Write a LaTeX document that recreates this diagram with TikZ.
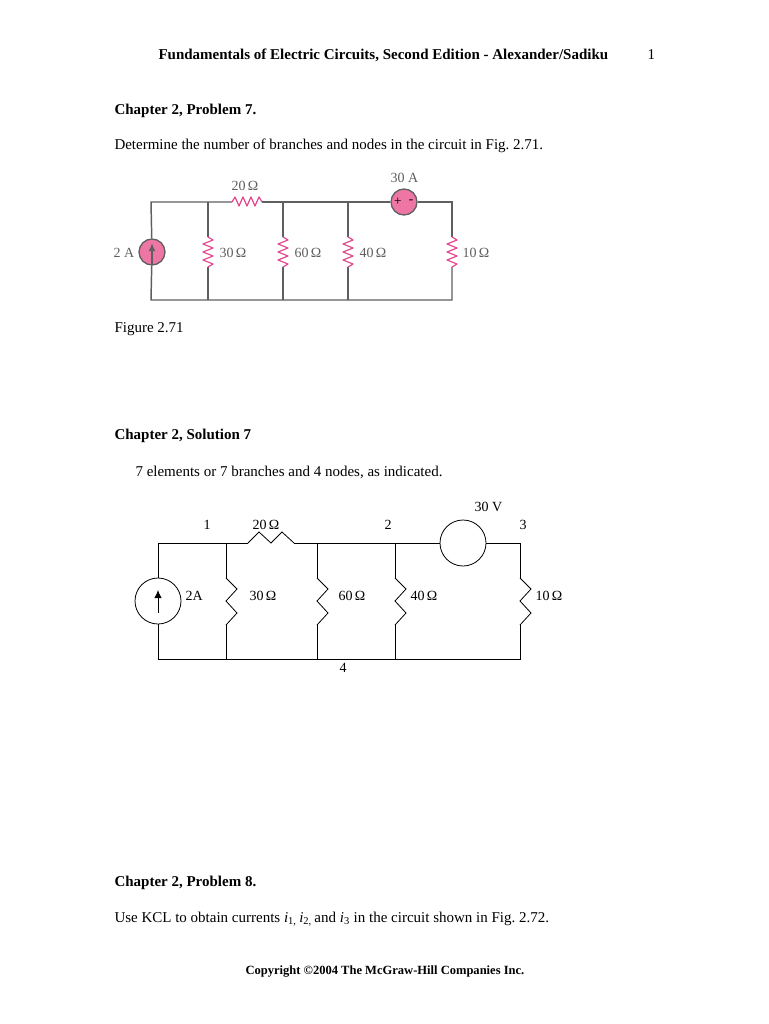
\documentclass[tikz,border=0pt]{standalone}
\usepackage{fontspec}
\setmainfont{Liberation Serif}
\usetikzlibrary{arrows.meta}
\definecolor{pinkfill}{RGB}{238,118,165}
\definecolor{pinkline}{RGB}{226,70,140}
\definecolor{wiregray}{RGB}{95,95,95}
\tikzset{every picture/.style={line width=0.75pt}}
\tikzset{
  txt/.style={anchor=base west,inner sep=0pt,font=\fontsize{11.25}{13}\selectfont\frenchspacing},
  hdr/.style={txt,font=\fontsize{11.25}{13}\selectfont\bfseries\frenchspacing},
  lbl/.style={anchor=base west,inner sep=0pt,font=\fontsize{10.5}{12}\selectfont},
  fig/.style={anchor=base west,inner sep=0pt,text=wiregray,font=\fontsize{10.5}{12}\selectfont},
  wire/.style={draw=black,line width=0.6pt},
  wirefig/.style={draw=wiregray,line width=1.1pt},
  srcfig/.style={circle,draw=wiregray,fill=pinkfill,line width=1pt,minimum size=26pt*0.75,inner sep=0pt},
  src/.style={circle,draw=black,line width=0.6pt,minimum size=46pt*0.75,inner sep=0pt},
  pinkres/.style={draw=pinkline,line width=0.9pt,line join=round}
}
\begin{document}
\begin{tikzpicture}[x=0.75pt,y=0.75pt,yscale=-1,xscale=1]
\useasboundingbox (0,0) rectangle (768,1024);

% Page text
\node (header) [hdr] at (158,60) {Fundamentals of Electric Circuits, Second Edition - Alexander/Sadiku};
\node (pagenum) [txt] at (647,60) {1};
\node (prob7) [hdr] at (114,114) {Chapter 2, Problem 7.};
\node (prob7txt) [txt] at (114,149) {Determine the number of branches and nodes in the circuit in Fig. 2.71.};
\node (figcap) [txt] at (114,332) {Figure 2.71};
\node (sol7) [hdr] at (114,439) {Chapter 2, Solution 7};
\node (sol7txt) [txt] at (135,476) {7 elements or 7 branches and 4 nodes, as indicated.};
\node (prob8) [hdr] at (114,886) {Chapter 2, Problem 8.};
\node (prob8txt) [txt] at (114,922) {Use KCL to obtain currents \textit{i}\textsubscript{1,}\,\textit{i}\textsubscript{2,}\,and \textit{i}\textsubscript{3} in the circuit shown in Fig. 2.72.};
\node (copyr) [anchor=base west,inner sep=0pt,font=\fontsize{9.4}{11}\selectfont\bfseries] at (245,974) {Copyright ©2004 The McGraw-Hill Companies Inc.};

% Figure 2.71
\coordinate (ta) at (151,202);
\coordinate (tb) at (208,202);
\coordinate (tc) at (283,202);
\coordinate (td) at (348,202);
\coordinate (te) at (452,202);
\coordinate (ba) at (151,300);
\coordinate (bb) at (208,300);
\coordinate (bc) at (283,300);
\coordinate (bd) at (348,300);
\coordinate (be) at (452,300);
\node (isrc) [srcfig] at (152,252) {};
\node (vsrc) [srcfig] at (404,202) {};
\coordinate (rtwol) at (232,202);
\coordinate (rtwor) at (262,202);
\coordinate (rbt) at (208,237);
\coordinate (rbb) at (208,267);
\coordinate (rct) at (283,237);
\coordinate (rcb) at (283,267);
\coordinate (rdt) at (348,237);
\coordinate (rdb) at (348,267);
\coordinate (ret) at (452,237);
\coordinate (reb) at (452,267);

\draw [wirefig] (isrc) -- (ta) -- (rtwol);
\draw [wirefig] (rtwor) -- (vsrc);
\draw [wirefig] (vsrc) -- (te) -- (ret);
\draw [wirefig] (isrc) -- (ba) -- (be) -- (reb);
\draw [wirefig] (tb) -- (rbt);
\draw [wirefig] (rbb) -- (bb);
\draw [wirefig] (tc) -- (rct);
\draw [wirefig] (rcb) -- (bc);
\draw [wirefig] (td) -- (rdt);
\draw [wirefig] (rdb) -- (bd);

\draw [pinkres] (rtwol) -- ++(3,-5) -- ++(4,9) -- ++(4,-9) -- ++(4,9) -- ++(4,-9) -- ++(4,9) -- ++(4,-9) -- (rtwor);
\foreach \rtop/\rbot in {rbt/rbb,rct/rcb,rdt/rdb,ret/reb}
  \draw [pinkres] (\rtop) -- ++(5,3) -- ++(-10,4) -- ++(10,4) -- ++(-10,4) -- ++(10,4) -- ++(-10,4) -- ++(10,4) -- (\rbot);

\draw [wiregray,line width=1pt,-{Latex[length=6pt,width=5pt]}] (152,265) -- (152,243);
\node (plus) [text=black,inner sep=0pt,font=\fontsize{10}{11}\selectfont] at (398,202) {+};
\node (minus) [text=black,inner sep=0pt,font=\fontsize{10}{11}\selectfont] at (411,202) {-};

\node (ltwenty) [fig] at (231,190) {20\,Ω};
\node (lthirtya) [fig] at (390,182) {30 A};
\node (ltwoa) [fig] at (113,257) {2 A};
\node (lthirty) [fig] at (219,257) {30\,Ω};
\node (lsixty) [fig] at (294,257) {60\,Ω};
\node (lforty) [fig] at (359,257) {40\,Ω};
\node (lten) [fig] at (462,257) {10\,Ω};

% Solution circuit
\coordinate (na) at (158,543);
\coordinate (nb) at (226,543);
\coordinate (nc) at (317,543);
\coordinate (nd) at (395,543);
\coordinate (ne) at (520,543);
\coordinate (sa) at (158,659);
\coordinate (sb) at (226,659);
\coordinate (sc) at (317,659);
\coordinate (sd) at (395,659);
\coordinate (se) at (520,659);
\node (isource) [src] at (158,601) {};
\node (vsource) [src] at (463,543) {};
\coordinate (rl) at (248,543);
\coordinate (rr) at (294,543);
\coordinate (tbt) at (226,578);
\coordinate (tbb) at (226,625);
\coordinate (tct) at (317,578);
\coordinate (tcb) at (317,625);
\coordinate (tdt) at (395,578);
\coordinate (tdb) at (395,625);
\coordinate (tet) at (520,578);
\coordinate (teb) at (520,625);

\draw [wire] (isource) -- (na) -- (rl);
\draw [wire] (rr) -- (vsource);
\draw [wire] (vsource) -- (ne) -- (tet);
\draw [wire] (isource) -- (sa) -- (se) -- (teb);
\draw [wire] (nb) -- (tbt);
\draw [wire] (tbb) -- (sb);
\draw [wire] (nc) -- (tct);
\draw [wire] (tcb) -- (sc);
\draw [wire] (nd) -- (tdt);
\draw [wire] (tdb) -- (sd);

\draw [wire] (rl) -- ++(11,-11) -- ++(12,11) -- ++(11,-11) -- (rr);
\foreach \rtop/\rbot in {tbt/tbb,tct/tcb,tdt/tdb,tet/teb}
  \draw [wire] (\rtop) -- ++(11,11) -- ++(-11,12) -- ++(11,12) -- (\rbot);

\draw [wire,-{Latex[length=6pt,width=5.5pt]}] (158,613) -- (158,590);

\node (nodeone) [lbl] at (203,529) {1};
\node (rtwenty) [lbl] at (252,529) {20\,Ω};
\node (nodetwo) [lbl] at (384,529) {2};
\node (vthirty) [lbl] at (474,511) {30 V};
\node (nodethree) [lbl] at (519,529) {3};
\node (atwo) [lbl] at (185,600) {2A};
\node (rthirty) [lbl] at (249,600) {30\,Ω};
\node (rsixty) [lbl] at (338,600) {60\,Ω};
\node (rforty) [lbl] at (410,600) {40\,Ω};
\node (rten) [lbl] at (535,600) {10\,Ω};
\node (nodefour) [lbl] at (339,672) {4};
\end{tikzpicture}
\end{document}
